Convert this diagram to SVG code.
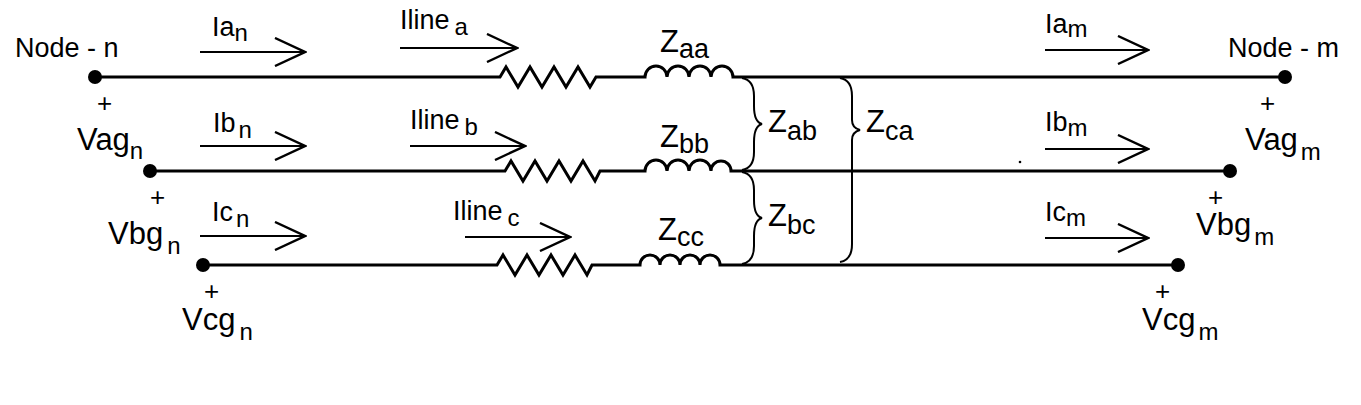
<svg xmlns="http://www.w3.org/2000/svg" width="1361" height="405" viewBox="0 0 1361 405">
<style>
text{font-family:"Liberation Sans",Arial,sans-serif;fill:#000}
.w{stroke:#000;stroke-width:3;fill:none}
.c{stroke:#000;stroke-width:2;fill:none}
.t{font-size:27px}.v{font-size:31px}.s{font-size:24px}.p{font-size:26px}
</style>
<defs>
<marker id="ah" markerWidth="34" markerHeight="30" refX="32" refY="15" markerUnits="userSpaceOnUse" orient="auto"><path d="M2,1 L32,15 L2,29" fill="none" stroke="#000" stroke-width="2.4"/></marker>
</defs>
<g id="connectors">
<path class="w" d="M95,77 H500 l6,-10 l12,20 l12,-20 l12,20 l12,-20 l12,20 l12,-20 l12,20 l6,-10 H645 a11,11 0 0 1 22,0 a11,11 0 0 1 22,0 a11,11 0 0 1 22,0 a11,11 0 0 1 22,0 H1285"/>
<path class="w" d="M150,171 H505 l6,-10 l12,20 l12,-20 l12,20 l12,-20 l12,20 l12,-20 l12,20 l5,-10 H645 a11,11 0 0 1 22,0 a11,11 0 0 1 22,0 a11,11 0 0 1 22,0 a10,10 0 0 1 20,0 H1230"/>
<path class="w" d="M203,265 H497 l6,-10 l12,20 l12,-20 l12,20 l12,-20 l12,20 l12,-20 l12,20 l5,-10 H640 a10,10 0 0 1 20,0 a10,10 0 0 1 20,0 a10,10 0 0 1 20,0 a10,10 0 0 1 20,0 H1178"/>
<g class="c">
<path d="M742,78 q12,2 12,18 v10 q0,16 8,18 q-8,2 -8,18 v10 q0,16 -12,18"/>
<path d="M742,172 q12,2 12,18 v10 q0,16 8,18 q-8,2 -8,18 v10 q0,16 -12,18"/>
<path d="M840,78 q12,2 12,18 v24 q0,8 8,10 q-8,2 -8,10 v104 q0,16 -12,18"/>
</g>
<g class="c" marker-end="url(#ah)">
<path d="M200,52 H305"/><path d="M200,146 H305"/><path d="M200,236 H305"/>
<path d="M400,48 H517"/><path d="M410,146 H525"/><path d="M465,237 H570"/>
<path d="M1045,50 H1148"/><path d="M1045,149 H1148"/><path d="M1045,238 H1148"/>
</g>
</g>
<g id="node-n"><circle cx="95" cy="77" r="7"/><text class="t" x="15" y="57">Node - n</text><text class="p" x="97" y="112">+</text><text class="v" x="77" y="150">Vag<tspan class="s" dy="9">n</tspan></text></g>
<g id="node-bn"><circle cx="150" cy="171" r="7"/><text class="p" x="150" y="206">+</text><text class="v" x="108" y="244">Vbg<tspan class="s" dx="4" dy="10">n</tspan></text></g>
<g id="node-cn"><circle cx="203" cy="265" r="7"/><text class="p" x="204" y="300">+</text><text class="v" x="182" y="330">Vcg<tspan class="s" dx="4" dy="10">n</tspan></text></g>
<g id="node-m"><circle cx="1285" cy="77" r="7"/><text class="t" x="1228" y="57">Node - m</text><text class="p" x="1260" y="112">+</text><text class="v" x="1245" y="150">Vag<tspan class="s" dx="3" dy="10">m</tspan></text></g>
<g id="node-bm"><circle cx="1230" cy="171" r="7"/><text class="p" x="1208" y="206">+</text><text class="v" x="1196" y="235">Vbg<tspan class="s" dx="3" dy="10">m</tspan></text></g>
<g id="node-cm"><circle cx="1178" cy="265" r="7"/><text class="p" x="1155" y="300">+</text><text class="v" x="1142" y="330">Vcg<tspan class="s" dx="3" dy="10">m</tspan></text></g>
<g id="labels">
<text class="t" x="212" y="36">Ia<tspan class="s" dy="5">n</tspan></text>
<text class="t" x="213" y="132">Ib<tspan class="s" dx="3" dy="6">n</tspan></text>
<text class="t" x="212" y="221">Ic<tspan class="s" dx="3" dy="6">n</tspan></text>
<text class="t" x="400" y="29">Iline<tspan class="s" dx="5" dy="6">a</tspan></text>
<text class="t" x="410" y="129">Iline<tspan class="s" dx="5" dy="6">b</tspan></text>
<text class="t" x="453" y="220">Iline<tspan class="s" dx="5" dy="6">c</tspan></text>
<text class="t" x="1045" y="33">Ia<tspan class="s" dy="4">m</tspan></text>
<text class="t" x="1045" y="131">Ib<tspan class="s" dy="5">m</tspan></text>
<text class="t" x="1045" y="221">Ic<tspan class="s" dy="5">m</tspan></text>
<text class="v" x="660" y="52">Z<tspan class="t" dy="6">aa</tspan></text>
<text class="v" x="660" y="147">Z<tspan class="t" dy="6">bb</tspan></text>
<text class="v" x="658" y="240">Z<tspan class="t" dy="6">cc</tspan></text>
<text class="v" x="768" y="132">Z<tspan class="t" dy="8">ab</tspan></text>
<text class="v" x="768" y="226">Z<tspan class="t" dy="8">bc</tspan></text>
<text class="v" x="866" y="132">Z<tspan class="t" dy="8">ca</tspan></text>
<circle cx="1020" cy="162" r="1.3"/>
</g>
</svg>
